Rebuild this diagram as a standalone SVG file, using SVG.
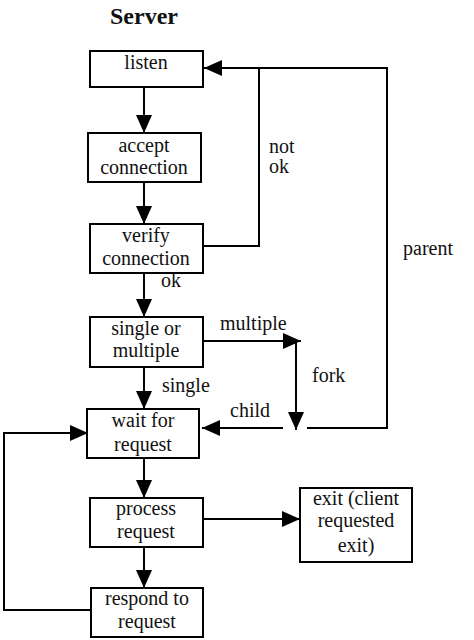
<svg xmlns="http://www.w3.org/2000/svg" width="474" height="640" viewBox="0 0 474 640">
<style>
.box{fill:#fff;stroke:#000;stroke-width:2}
.t{font-family:"Liberation Serif","Times New Roman",serif;font-size:20px;fill:#111}
.c{text-anchor:middle}
.ln{fill:none;stroke:#000;stroke-width:2}
</style>
<defs>
<marker id="ah" markerUnits="userSpaceOnUse" markerWidth="20" markerHeight="18" refX="18" refY="8" orient="auto">
<path d="M0,0 L18,8 L0,16 Z" fill="#000"/>
</marker>
</defs>
<rect width="474" height="640" fill="#fff"/>
<text x="110" y="24" style="font-family:'Liberation Serif','Times New Roman',serif;font-size:24px;font-weight:bold;fill:#111">Server</text>
<g id="connectors">
<path class="ln" d="M144,87 V133" marker-end="url(#ah)"/>
<path class="ln" d="M144,182 V224" marker-end="url(#ah)"/>
<path class="ln" d="M144,273 V317" marker-end="url(#ah)"/>
<path class="ln" d="M144,367 V409" marker-end="url(#ah)"/>
<path class="ln" d="M144,458 V498" marker-end="url(#ah)"/>
<path class="ln" d="M144,547 V588" marker-end="url(#ah)"/>
<path class="ln" d="M203,519 H300" marker-end="url(#ah)"/>
<path class="ln" d="M203,246 H259 V68"/>
<path class="ln" d="M307,428 H387 V68 H204" marker-end="url(#ah)"/>
<path class="ln" d="M203,341 H301" marker-end="url(#ah)"/>
<path class="ln" d="M296,341 V430" marker-end="url(#ah)"/>
<path class="ln" d="M283,428 H202" marker-end="url(#ah)"/>
<path class="ln" d="M91,610 H4 V433 H88" marker-end="url(#ah)"/>
<text class="t" x="269" y="153">not</text>
<text class="t" x="269" y="173">ok</text>
<text class="t" x="161" y="287">ok</text>
<text class="t" x="220" y="330">multiple</text>
<text class="t" x="312" y="382">fork</text>
<text class="t" x="162" y="392">single</text>
<text class="t" x="230" y="417">child</text>
<text class="t" x="403" y="255">parent</text>
</g>
<g id="listen"><rect class="box" x="90" y="51" width="113" height="36"/><text class="t c" x="146" y="69">listen</text></g>
<g id="accept"><rect class="box" x="88" y="133" width="113" height="49"/><text class="t c" x="144" y="152">accept</text><text class="t c" x="144" y="174">connection</text></g>
<g id="verify"><rect class="box" x="90" y="224" width="113" height="49"/><text class="t c" x="146" y="242">verify</text><text class="t c" x="146" y="265">connection</text></g>
<g id="single"><rect class="box" x="90" y="317" width="113" height="50"/><text class="t c" x="146" y="335">single or</text><text class="t c" x="146" y="357">multiple</text></g>
<g id="wait"><rect class="box" x="87" y="409" width="112" height="49"/><text class="t c" x="143" y="427">wait for</text><text class="t c" x="143" y="451">request</text></g>
<g id="process"><rect class="box" x="90" y="498" width="113" height="49"/><text class="t c" x="146" y="515">process</text><text class="t c" x="146" y="538">request</text></g>
<g id="exit"><rect class="box" x="300" y="488" width="112" height="74"/><text class="t c" x="356" y="505">exit (client</text><text class="t c" x="356" y="527">requested</text><text class="t c" x="356" y="552">exit)</text></g>
<g id="respond"><rect class="box" x="91" y="588" width="112" height="49"/><text class="t c" x="147" y="605">respond to</text><text class="t c" x="147" y="628">request</text></g>
</svg>
